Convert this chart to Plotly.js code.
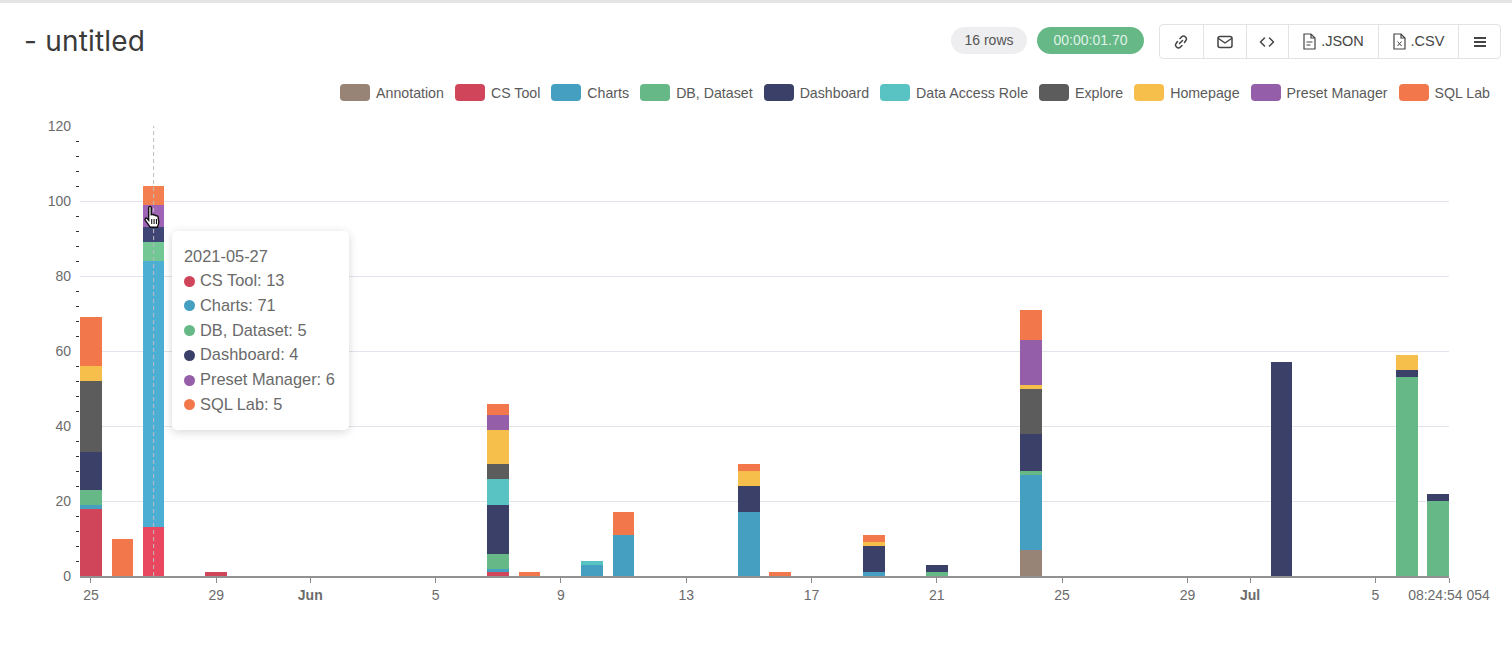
<!DOCTYPE html>
<html>
<head>
<meta charset="utf-8">
<script src="https://cdn.plot.ly/plotly-3.0.1.min.js"></script>
<style>
html,body{margin:0;padding:0;background:#fff;width:1512px;height:650px;overflow:hidden;font-family:"Liberation Sans",Arial,sans-serif}
#chart{position:absolute;left:0;top:0;width:1512px;height:650px}
#topline{position:absolute;left:0;top:0;width:1512px;height:3px;background:#e4e4e6}
#title{position:absolute;left:24px;top:23px;font:400 28px/36px Inter,sans-serif;color:#3a3a3a;letter-spacing:.2px}
.pill{position:absolute;top:27px;height:27px;border-radius:14px;font:14px/27px "Liberation Sans",sans-serif;text-align:center}
#rows{left:951px;width:76px;background:#eeeef0;color:#555}
#timer{left:1037px;width:107px;background:#67b887;color:#dff2e6}
#tools{position:absolute;left:1159px;top:24px;width:342px;height:35px;border:1px solid #e3e3e3;border-radius:4px;box-sizing:border-box;display:flex;color:#444;font:14.5px/33px "Liberation Sans",sans-serif}
#tools div{border-right:1px solid #e3e3e3;display:flex;align-items:center;justify-content:center;gap:5px;box-sizing:border-box}
#tools div:last-child{border-right:none}
#legend{position:absolute;right:22px;top:84px;height:17px;display:flex;gap:11px;font:14.2px/17px "Liberation Sans",sans-serif;color:#5a5a5a;white-space:nowrap}
#legend .it{display:flex;align-items:center;gap:6px}
#legend .it span:last-child{position:relative;top:1px}
#legend .sw{width:30px;height:17px;border-radius:4px;display:block}
#tip{position:absolute;left:172px;top:231px;width:177px;height:199px;box-sizing:border-box;background:#fff;border-radius:5px;box-shadow:0 2px 10px rgba(0,0,0,.16);padding:12.500px 12px;font:16.400px/24.7px "Liberation Sans",sans-serif;color:#6a6a6a}
#tip .dot{display:inline-block;width:11px;height:11px;border-radius:50%;margin-right:5px;vertical-align:-0.5px}
#hand{position:absolute;left:143px;top:205px}
</style>
</head>
<body>
<div id="chart"></div>
<div id="topline"></div>
<div id="title">- untitled</div>
<div id="rows" class="pill">16 rows</div>
<div id="timer" class="pill">00:00:01.70</div>
<div id="tools"></div>
<div id="legend"></div>
<div id="tip"></div>
<svg id="hand" width="20" height="26" viewBox="0 0 18 24">
<path d="M5 2.500c0-1.600 2.400-1.600 2.400 0V9l1-.2c.8-.2 1.400.1 1.700.6.700-.3 1.500-.1 1.800.6.800-.2 1.600.2 1.800 1l.6 4.500c.2 2-.6 3.500-1.300 5H6.500C5.500 19 3.800 17 1.800 14c-.8-1.200.6-2.600 1.800-1.500L5 14z" fill="#fff" stroke="#111" stroke-width="1.300"/>
<path d="M7.800 13v4.500M10 13v4.500M12.200 13v4.500" stroke="#111" stroke-width="1"/>
</svg>
<script>
// ---- data ----
var dates = ["2021-05-25","2021-05-26","2021-05-27","2021-05-29","2021-06-07","2021-06-08","2021-06-10","2021-06-11","2021-06-15","2021-06-16","2021-06-19","2021-06-21","2021-06-24","2021-07-02","2021-07-06","2021-07-07"];
var annotation    = [0,0,0,0,0,0,0,0,0,0,0,0,7,0,0,0];
var csTool        = [18,0,13,1,1,0,0,0,0,0,0,0,0,0,0,0];
var charts        = [1,0,71,0,1,0,3,11,17,0,1,0,20,0,0,0];
var dbDataset     = [4,0,5,0,4,0,0,0,0,0,0,1,1,0,53,20];
var dashboard     = [10,0,4,0,13,0,0,0,7,0,7,2,10,57,2,2];
var dataAccess    = [0,0,0,0,7,0,1,0,0,0,0,0,0,0,0,0];
var explore       = [19,0,0,0,4,0,0,0,0,0,0,0,12,0,0,0];
var homepage      = [4,0,0,0,9,0,0,0,4,0,1,0,1,0,4,0];
var presetManager = [0,0,6,0,4,0,0,0,0,0,0,0,12,0,0,0];
var sqlLab        = [13,10,5,0,3,1,0,6,2,1,2,0,8,0,0,0];
var seriesNames   = ["Annotation","CS Tool","Charts","DB, Dataset","Dashboard","Data Access Role","Explore","Homepage","Preset Manager","SQL Lab"];
var seriesValues  = [annotation,csTool,charts,dbDataset,dashboard,dataAccess,explore,homepage,presetManager,sqlLab];
var xTickVals  = ["2021-05-25","2021-05-29","2021-06-01","2021-06-05","2021-06-09","2021-06-13","2021-06-17","2021-06-21","2021-06-25","2021-06-29","2021-07-01","2021-07-05","2021-07-07 08:24:54.054"];
var xTickText  = ["25","29","<b>Jun</b>","5","9","13","17","21","25","29","<b>Jul</b>","5","08:24:54 054"];
var yTickVals  = [0,20,40,60,80,100,120];
var yMinorVals = [4,8,12,16,24,28,32,36,44,48,52,56,64,68,72,76,84,88,92,96,104,108,112,116];
var hoverDate  = "2021-05-27";

// ---- styling ----
var colors    = ["#978476","#d1455b","#449fc0","#67b887","#3b4069","#59c3c3","#5c5c5c","#f6be4b","#945ea8","#f2784b"];
var hiColors  = ["#a08c7e","#e8475f","#4baed2","#72c795","#3f4675","#5fd0d0","#636363","#f9c855","#a064b6","#f37f50"];
var xRange    = ["2021-05-24 15:35:05.946","2021-07-07 08:24:54.054"];
var DAY = 86400000;

var hoverIndex = dates.indexOf(hoverDate);
var traces = seriesNames.map(function(name,i){
  return {
    type:"bar", name:name, x:dates, y:seriesValues[i], width:0.69*DAY,
    marker:{color:dates.map(function(d,j){return j===hoverIndex?hiColors[i]:colors[i];}),line:{width:0}}
  };
});

var layout = {
  width:1512, height:650, barmode:"stack", showlegend:false,
  paper_bgcolor:"rgba(0,0,0,0)", plot_bgcolor:"rgba(0,0,0,0)",
  margin:{l:80,r:62.5,t:126,b:73.5,pad:0},
  font:{family:"Liberation Sans, Arial, sans-serif",size:14,color:"#6b6b6b"},
  xaxis:{type:"date",range:xRange,tickmode:"array",tickvals:xTickVals,ticktext:xTickText,tickangle:0,
    ticks:"outside",ticklen:5,tickwidth:1,tickcolor:"#8c8c8c",showline:true,linecolor:"#919191",linewidth:2,showgrid:false,zeroline:false,
    tickfont:{size:14,color:"#6b6b6b"}},
  yaxis:{range:[0,120],tickmode:"array",tickvals:yTickVals,ticks:"",ticklabelstandoff:8,showline:false,zeroline:false,showgrid:true,gridcolor:"#e2e4ed",gridwidth:1,
    tickfont:{size:14,color:"#6b6b6b"},
    minor:{tickmode:"array",tickvals:yMinorVals,ticks:"outside",ticklen:3,tickwidth:1,tickcolor:"#333",showgrid:false}},
  shapes:[{type:"line",xref:"x",yref:"paper",x0:hoverDate,x1:hoverDate,y0:0,y1:1,line:{color:"#bdbdbd",width:1,dash:"4px,3px"},layer:"above"}]
};
Plotly.newPlot("chart",traces,layout,{displayModeBar:false,staticPlot:true});

// legend from the series
var legend=document.getElementById("legend");
seriesNames.forEach(function(n,i){
  var it=document.createElement("div");it.className="it";
  var sw=document.createElement("span");sw.className="sw";sw.style.background=colors[i];
  var t=document.createElement("span");t.textContent=n;
  it.appendChild(sw);it.appendChild(t);legend.appendChild(it);
});

// tooltip from the hovered date
var tip=document.getElementById("tip");
var head=document.createElement("div");head.textContent=hoverDate;tip.appendChild(head);
seriesNames.forEach(function(n,i){
  var v=seriesValues[i][hoverIndex];
  if(!v)return;
  var r=document.createElement("div");
  var d=document.createElement("span");d.className="dot";d.style.background=colors[i];
  r.appendChild(d);r.appendChild(document.createTextNode(n+": "+v));tip.appendChild(r);
});

// toolbar
var stroke='fill="none" stroke="#444" stroke-width="1.500" stroke-linecap="round" stroke-linejoin="round"';
var iconLink='<svg width="16" height="16" viewBox="0 0 16 16"><path d="M6.500 9.500l3-3M7 4.500l1.500-1.500a2.800 2.800 0 0 1 4 4L11.500 8.500M9 11.500l-1.500 1.500a2.800 2.800 0 0 1-4-4L4.500 7.500" '+stroke+'/></svg>';
var iconMail='<svg width="16" height="14" viewBox="0 0 16 14"><rect x="1" y="1.500" width="14" height="11" rx="2" '+stroke+'/><path d="M1.500 3.500L8 8l6.500-4.500" '+stroke+'/></svg>';
var iconCode='<svg width="16" height="12" viewBox="0 0 16 12"><path d="M5.500 2L1.500 6l4 4M10.500 2l4 4-4 4" '+stroke+'/></svg>';
var iconDoc=function(inner){return '<svg width="13" height="17" viewBox="0 0 13 17"><path d="M1 1h7l4 4v11H1zM8 1v4h4" fill="none" stroke="#444" stroke-width="1.200"/>'+inner+'</svg>';};
var iconMenu='<svg width="14" height="12" viewBox="0 0 14 12"><path d="M1 2h12M1 6h12M1 10h12" stroke="#444" stroke-width="1.800"/></svg>';
var tools=[[44,iconLink],[43,iconMail],[43,iconCode],[90,iconDoc('<path d="M3.500 9h6M3.500 12h4" stroke="#444"/>')+'<span>.JSON</span>'],[81,iconDoc('<path d="M4.500 8.500l4 4.500M8.500 8.500l-4 4.500" stroke="#444"/>')+'<span>.CSV</span>'],[41,iconMenu]];
var tb=document.getElementById("tools");
tools.forEach(function(t){var d=document.createElement("div");d.style.width=t[0]+"px";d.innerHTML=t[1];tb.appendChild(d);});
</script>
</body>
</html>
